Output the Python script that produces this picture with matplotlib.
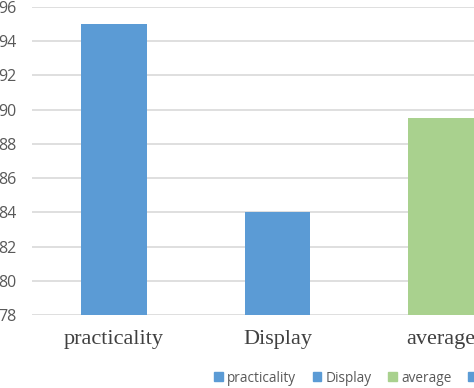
import matplotlib.pyplot as plt
from matplotlib.patches import Patch

# data
categories = ["practicality", "Display", "average"]
values = [95, 84, 89.5]
bar_colors = ["#5B9BD5", "#5B9BD5", "#A9D18E"]
legend_labels = ["practicality", "Display", "average", ""]
legend_colors = ["#5B9BD5", "#5B9BD5", "#A9D18E", "#5B9BD5"]
yticks = [78, 80, 82, 84, 86, 88, 90, 92, 94, 96]

fig = plt.figure(figsize=(4.74, 3.88), dpi=100)
# the original picture is cropped on the right, so the axes run past the edge
ax = fig.add_axes([32/474, 73/388, 491/474, 308/388])

x = list(range(len(categories)))
ax.bar(x, values, width=0.4, color=bar_colors, zorder=3)

ax.set_xlim(-0.5, 2.5)
ax.set_ylim(78, 96)
ax.set_yticks(yticks)
ax.yaxis.grid(True, color="#D9D9D9", linewidth=1.2, zorder=0)
ax.set_axisbelow(True)

for s in ax.spines.values():
    s.set_visible(False)

ax.set_xticks(x)
ax.set_xticklabels(categories, family="Liberation Serif", fontsize=16, color="#404040")
ax.tick_params(axis="x", length=0, pad=11)
ax.tick_params(axis="y", length=0, pad=11.5, labelsize=11.5, labelcolor="#595959")
for lab in ax.get_yticklabels():
    lab.set_family("Open Sans")

handles = [Patch(color=c) for c in legend_colors]
fig.legend(handles, legend_labels, ncol=4, frameon=False,
           loc="center left", bbox_to_anchor=(202/474, 10/388),
           prop={"family": "Open Sans", "size": 9.8},
           labelcolor="#595959", handlelength=0.65, handleheight=0.65,
           handletextpad=0.3, columnspacing=1.2)

fig.savefig("out.png", dpi=100)
